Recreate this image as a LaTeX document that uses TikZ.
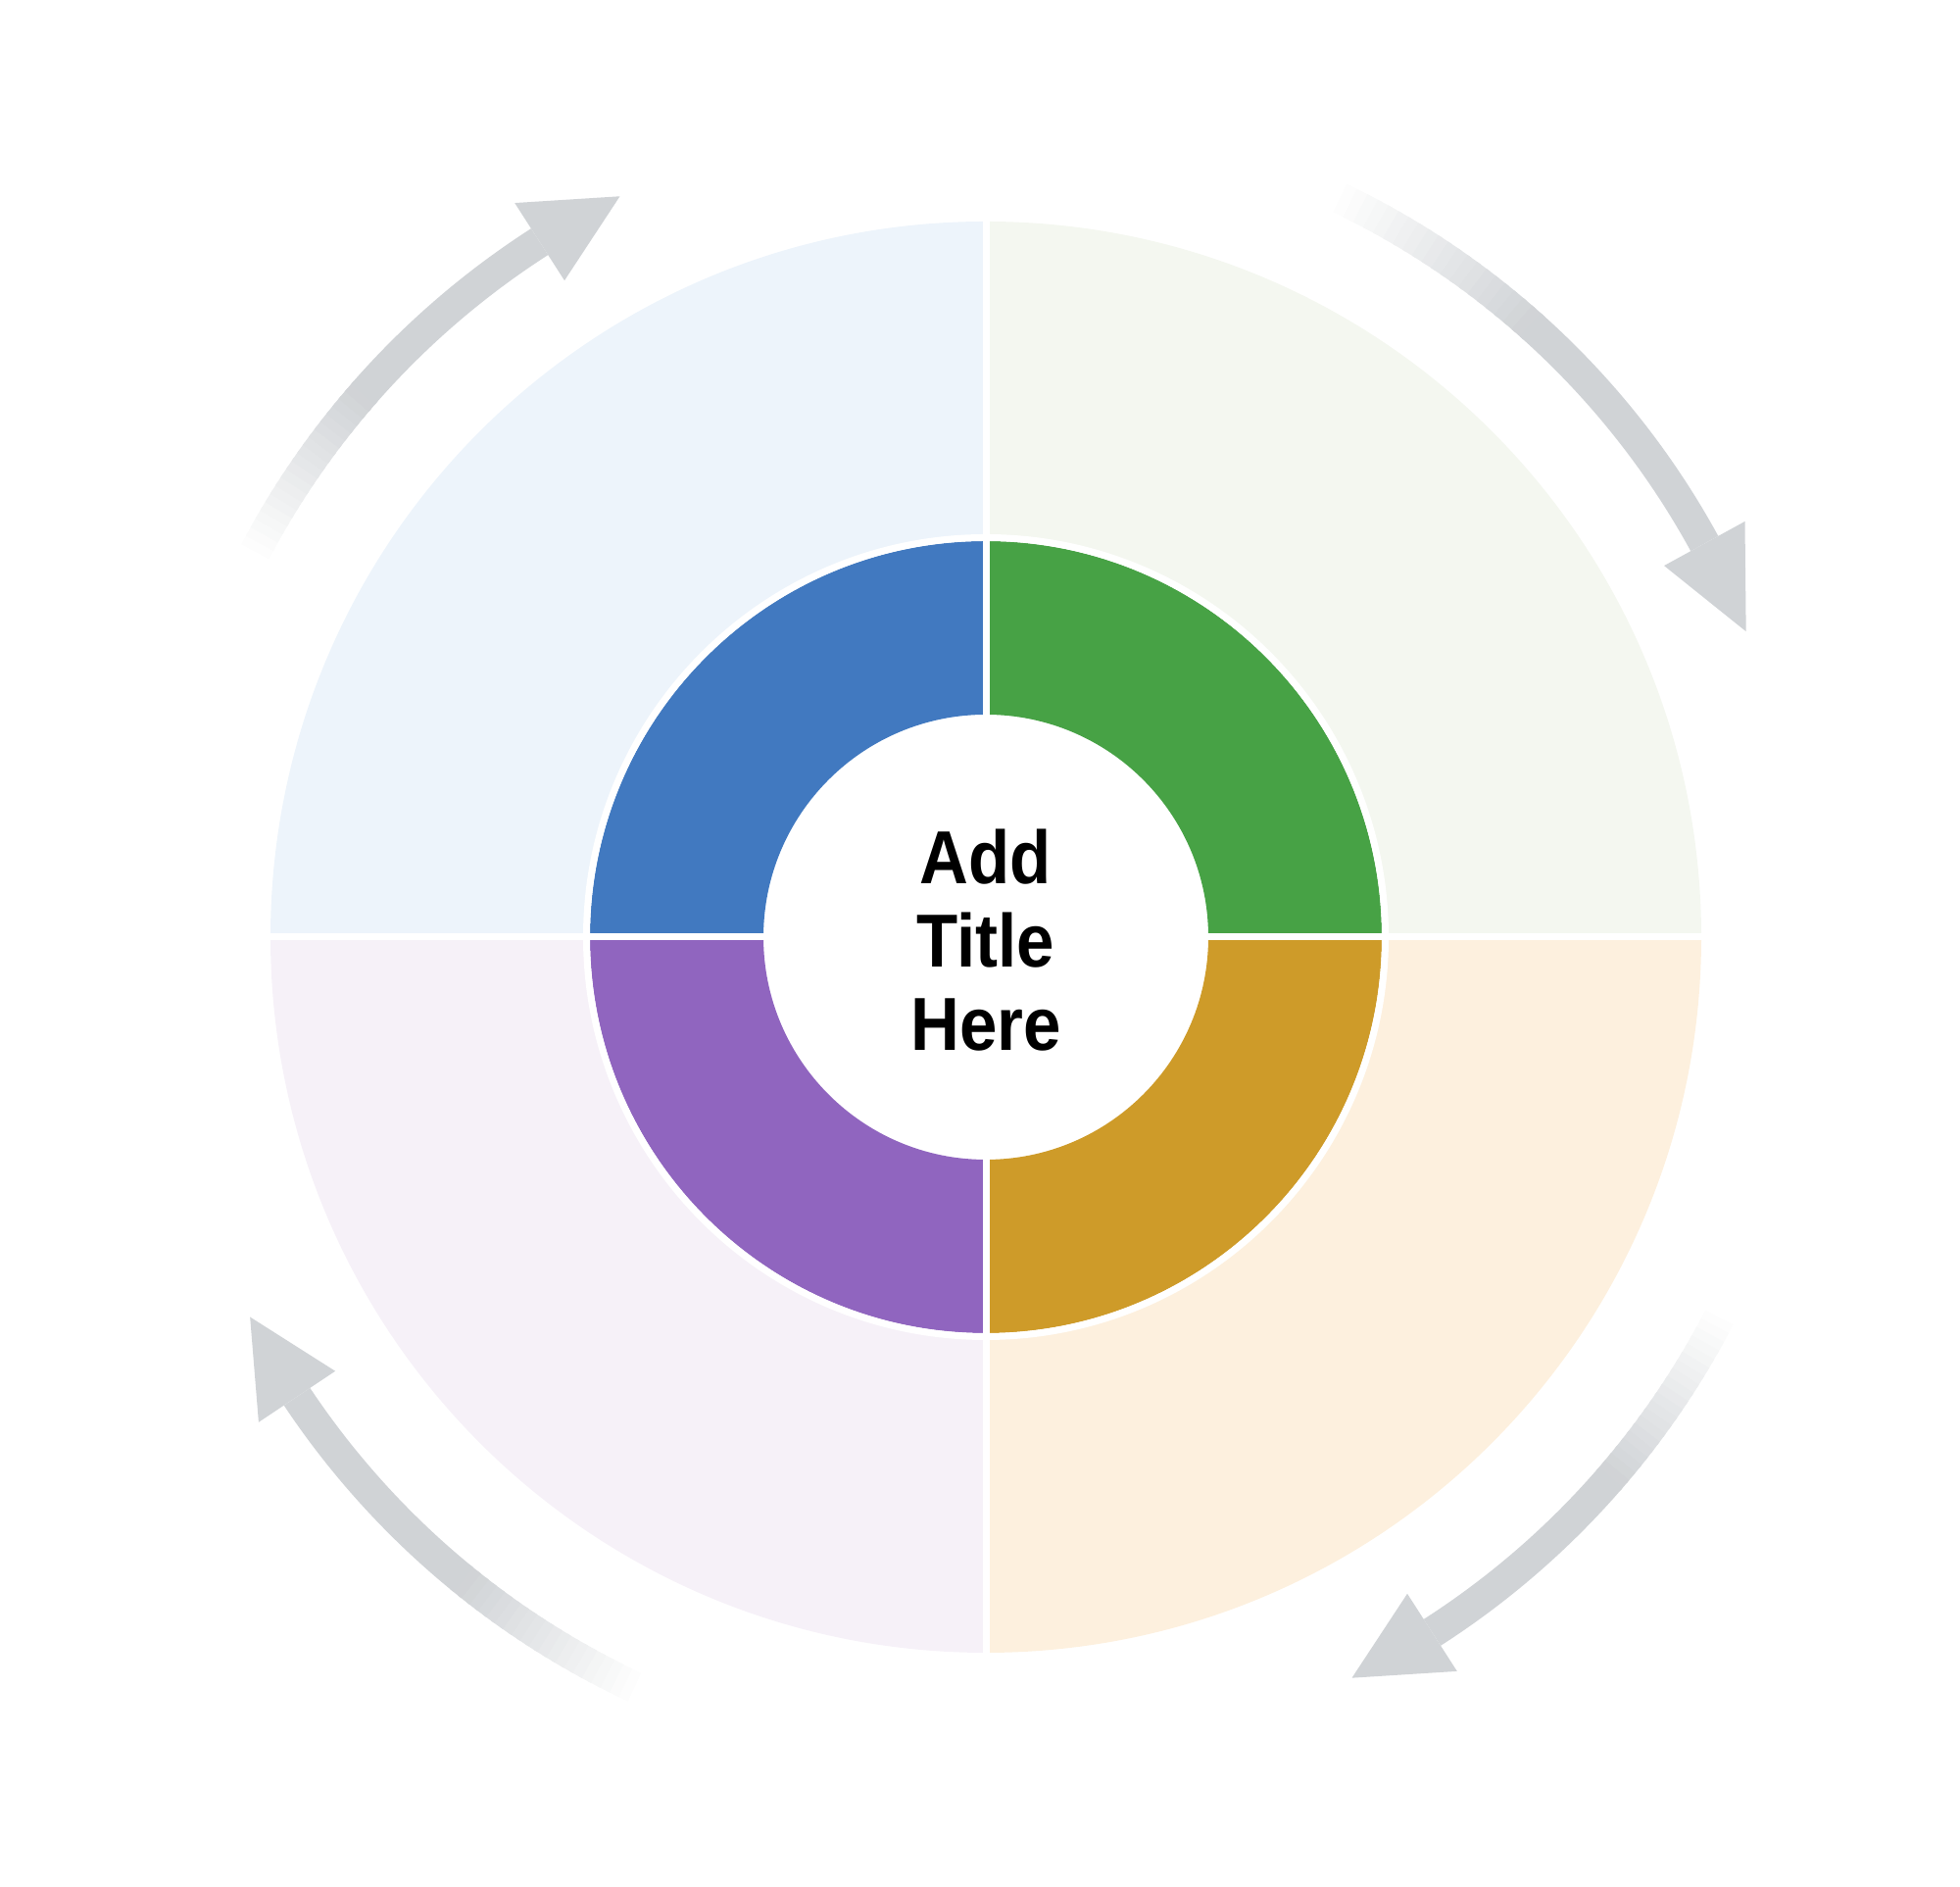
\documentclass[tikz,border=0pt]{standalone}
\usepackage{fontspec}
\newfontfamily\titlefont[FakeStretch=0.9]{Liberation Sans}

\definecolor{deepblue}{HTML}{4179C0}
\definecolor{deepgreen}{HTML}{47A245}
\definecolor{deepgold}{HTML}{CE9B29}
\definecolor{deeppurple}{HTML}{9065BF}
\definecolor{softblue}{HTML}{EDF4FB}
\definecolor{softgreen}{HTML}{F4F7F0}
\definecolor{softorange}{HTML}{FDF0DE}
\definecolor{softpurple}{HTML}{F6F1F8}
\definecolor{arrowgray}{HTML}{D0D3D6}

\begin{document}
\begin{tikzpicture}[
    x=0.01cm,y=0.01cm,
    gapline/.style={white,line width=0.07cm},
    shaft/.style={line width=0.32cm},
    tiphead/.style={fill=arrowgray}]
\useasboundingbox (0,0) rectangle (2000,1925);
\coordinate (c) at (1006,969);
\begin{scope}[shift={(c)}]
% quadrants: pale outer band, strong inner band
\foreach \s/\lt/\dk in {90/softblue/deepblue,0/softgreen/deepgreen,
                        270/softorange/deepgold,180/softpurple/deeppurple}{
  \fill[\lt] (\s:404) arc[start angle=\s,end angle=\s+90,radius=404]
    -- (\s+90:730) arc[start angle=\s+90,end angle=\s,radius=730] -- cycle;
  \fill[\dk] (\s:227) arc[start angle=\s,end angle=\s+90,radius=227]
    -- (\s+90:404) arc[start angle=\s+90,end angle=\s,radius=404] -- cycle;
}
\draw[gapline] (0,-740) -- (0,740);
\draw[gapline] (-740,0) -- (740,0);
\draw[gapline] (0,0) circle[radius=407.5];
% curved arrows, fading out at the tail
\foreach \ta/\tb/\tc/\r in {152.2/122.7/116.3/843,64.4/28.7/21.9/836,
                            332.6/302.7/296.3/843,244.9/213.7/207.3/845}{
  \pgfmathsetmacro\tm{\ta+0.45*(\tb-\ta)}
  \pgfmathsetmacro\dt{(\tm-\ta)/20}
  \pgfmathsetmacro\ro{\r+47}
  \pgfmathsetmacro\ri{\r-47}
  \foreach \k in {0,...,19}{
    \pgfmathsetmacro\ps{\ta+\k*\dt}
    \pgfmathsetmacro\pe{\ps+1.4*\dt}
    \pgfmathtruncatemacro\pc{5*\k+4}
    \draw[shaft,arrowgray!\pc!white] (\ps:\r) arc[start angle=\ps,end angle=\pe,radius=\r];
  }
  \draw[shaft,arrowgray] (\tm:\r) arc[start angle=\tm,end angle=\tb,radius=\r];
  \fill[tiphead] (\tb:\ro) -- (\tc:\r) -- (\tb:\ri) -- cycle;
}
\node[font=\titlefont\bfseries\fontsize{21.8}{24.2}\selectfont,align=center]
  (title) at (0,-3) {Add\\Title\\Here};
\end{scope}
\end{tikzpicture}
\end{document}
